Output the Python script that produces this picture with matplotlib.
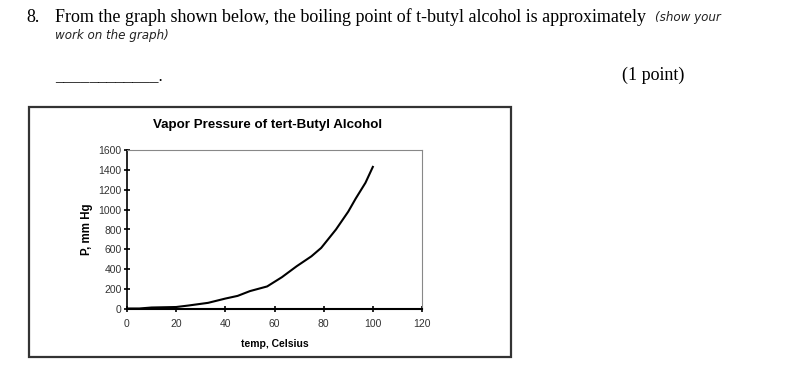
import matplotlib
matplotlib.use("Agg")
import matplotlib.pyplot as plt
from matplotlib.patches import Rectangle

# Dados (temperatura em °C, pressão em mmHg)
temps = [0, 5, 10, 20, 25, 33, 40, 45, 50, 57, 63, 69, 75, 79, 85, 90, 93, 97, 100]
pressao = [5, 5, 15, 20, 35, 62, 105, 132, 180, 227, 320, 430, 530, 615, 800, 980, 1110, 1270, 1430]

x_ticks = [0, 20, 40, 60, 80, 100, 120]
y_ticks = [0, 200, 400, 600, 800, 1000, 1200, 1400, 1600]

W, H = 790, 391
fig = plt.figure(figsize=(W / 100, H / 100), dpi=100)


def fx(px):
    return px / W


def fy(py):
    return 1 - py / H


# Texto da questão
serif = ["Liberation Serif", "DejaVu Serif"]
fig.text(fx(26), fy(17), "8.", fontsize=13, family=serif, va="center")
fig.text(fx(55), fy(17), "From the graph shown below, the boiling point of t-butyl alcohol is approximately",
         fontsize=13, family=serif, va="center")
italico = ["DejaVu Sans", "Liberation Sans"]
fig.text(fx(655), fy(18), "(show your", fontsize=9.5, family=italico, style="italic", stretch="condensed",
         va="center", color="#222222")
fig.text(fx(55), fy(36), "work on the graph)", fontsize=9.5, family=italico, style="italic", stretch="condensed",
         va="center", color="#222222")
fig.text(fx(55), fy(76), "____________.", fontsize=12.3, family=serif, va="center")
fig.text(fx(622), fy(75), "(1 point)", fontsize=13, family=serif, va="center")

# Moldura do gráfico
fig.patches.append(Rectangle((fx(29), fy(357)), fx(511) - fx(29), fy(107) - fy(357),
                             transform=fig.transFigure, fill=False, edgecolor="#333333", linewidth=1.6))

# Eixos
ax = fig.add_axes([fx(127), fy(309), fx(422) - fx(127), fy(150) - fy(309)])
ax.plot(temps, pressao, color="black", linewidth=1.5)
ax.set_xlim(0, 120)
ax.set_ylim(0, 1600)
ax.set_xticks(x_ticks)
ax.set_yticks(y_ticks)

sans = ["Liberation Sans", "DejaVu Sans"]
ax.set_xticklabels([str(t) for t in x_ticks], family=sans, fontsize=7.5, color="#333333")
ax.set_yticklabels([str(t) for t in y_ticks], family=sans, fontsize=7.5, color="#333333")
ax.tick_params(direction="inout", length=4.5, width=1.2, color="black")
ax.tick_params(axis="x", pad=5)
ax.tick_params(axis="y", pad=1.5)

ax.spines["left"].set_color("black")
ax.spines["bottom"].set_color("black")
ax.spines["left"].set_linewidth(1.2)
ax.spines["bottom"].set_linewidth(1.5)
ax.spines["top"].set_color("#888888")
ax.spines["right"].set_color("#888888")

ax.set_xlabel("temp, Celsius", family=sans, fontsize=7.5, fontweight="bold", labelpad=7)
ax.set_ylabel("P, mm Hg", family=sans, fontsize=8.3, fontweight="bold", labelpad=4)
fig.text(fx(268), fy(125), "Vapor Pressure of tert-Butyl Alcohol", family=sans, fontsize=9.6,
         fontweight="bold", ha="center", va="center")

fig.savefig("out.png", dpi=100)
